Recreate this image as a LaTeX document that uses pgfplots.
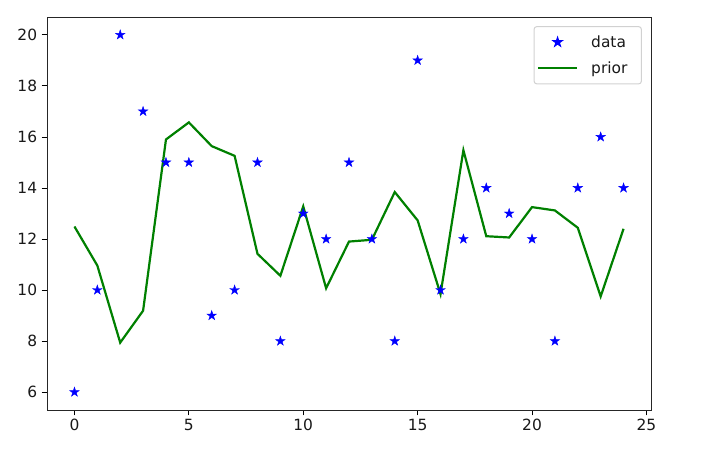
\documentclass[border=0pt]{standalone}
\usepackage{fontspec}
\setmainfont{DejaVu Sans}
\usepackage{pgfplots}
\pgfplotsset{compat=1.18}
\definecolor{mplgreen}{RGB}{0,128,0}
\pgfdeclareplotmark{fstar}{%
  \pgfpathmoveto{\pgfpointpolar{90}{\pgfplotmarksize}}%
  \pgfpathlineto{\pgfpointpolar{126}{0.382\pgfplotmarksize}}%
  \pgfpathlineto{\pgfpointpolar{162}{\pgfplotmarksize}}%
  \pgfpathlineto{\pgfpointpolar{198}{0.382\pgfplotmarksize}}%
  \pgfpathlineto{\pgfpointpolar{234}{\pgfplotmarksize}}%
  \pgfpathlineto{\pgfpointpolar{270}{0.382\pgfplotmarksize}}%
  \pgfpathlineto{\pgfpointpolar{306}{\pgfplotmarksize}}%
  \pgfpathlineto{\pgfpointpolar{342}{0.382\pgfplotmarksize}}%
  \pgfpathlineto{\pgfpointpolar{18}{\pgfplotmarksize}}%
  \pgfpathlineto{\pgfpointpolar{54}{0.382\pgfplotmarksize}}%
  \pgfpathclose
  \pgfusepathqfillstroke
}
\pgfplotsset{
  starlegend/.style={legend image code/.code={\draw[mark repeat=2,mark phase=2,##1] plot coordinates {(0bp,0bp)(19.5bp,0bp)(39bp,0bp)};}},
}
\pgfplotstableread{
x y
0 6
1 10
2 20
3 17
4 15
5 15
6 9
7 10
8 15
9 8
10 13
11 12
12 15
13 12
14 8
15 19
16 10
17 12
18 14
19 13
20 12
21 8
22 14
23 16
24 14
}\datatable
\pgfplotstableread{
x y
0 12.49
1 10.96
2 7.94
3 9.19
4 15.90
5 16.57
6 15.64
7 15.26
8 11.42
9 10.56
10 13.28
11 10.07
12 11.90
13 11.97
14 13.84
15 12.73
16 9.84
17 15.48
18 12.11
19 12.06
20 13.25
21 13.12
22 12.44
23 9.75
24 12.40
}\priortable
\begin{document}
\begin{tikzpicture}
\begin{axis}[
  scale only axis,
  width=604bp, height=393bp,
  xmin=-1.2, xmax=25.2,
  ymin=5.3, ymax=20.7,
  xtick={0,5,10,15,20,25},
  ytick={6,8,10,12,14,16,18,20},
  xtick pos=bottom, ytick pos=left,
  tick align=outside,
  major tick length=5.4bp,
  tick style={black, line width=0.8bp},
  axis line style={black!85, line width=0.8bp},
  /pgf/number format/assume math mode=true,
  tick label style={font=\fontsize{15.5}{18}\selectfont, text=black!90},
  yticklabel style={xshift=-1bp},
  legend cell align=left,
  legend style={at={(0.985,0.977)}, anchor=north east,
    draw=black!18, rounded corners=3bp, line width=1bp,
    font=\fontsize{15.5}{18}\selectfont, text=black!90,
    inner xsep=3bp, inner ysep=7bp, row sep=9bp,
    nodes={inner sep=2bp},
    /tikz/every odd column/.append style={column sep=11bp}},
]
\addplot[only marks, mark=fstar, mark size=5bp, color=blue, draw=blue, fill=blue, starlegend]
  table[x=x,y=y]{\datatable};
\addlegendentry{data}
\addplot[mplgreen, line width=2.2bp, no marks,
  legend image code/.code={\draw[mplgreen, line width=2.2bp] (0bp,0bp) -- (39bp,0bp);}]
  table[x=x,y=y]{\priortable};
\addlegendentry{prior\hspace*{9bp}}
\end{axis}
\pgfresetboundingbox
\path[use as bounding box] (-47bp,-56bp) rectangle (673bp,410bp);
\end{tikzpicture}
\end{document}
